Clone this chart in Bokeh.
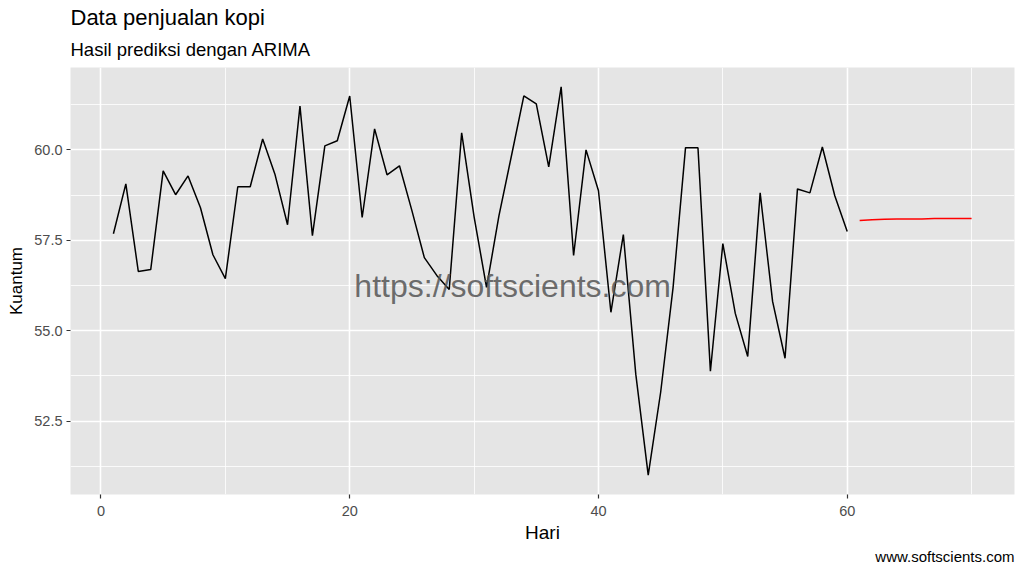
from bokeh.plotting import figure
from bokeh.models import FixedTicker, Title, Label, Range1d, NumeralTickFormatter
from bokeh.embed import file_html
from bokeh.resources import INLINE

# ---- data ----
hari = list(range(1, 61))
kuantum = [57.68, 59.06, 56.64, 56.69, 59.42, 58.76, 59.28, 58.40, 57.10, 56.44,
           58.98, 58.98, 60.30, 59.31, 57.93, 61.21, 57.63, 60.11, 60.25, 61.49,
           58.13, 60.58, 59.31, 59.56, 58.32, 57.02, 56.53, 56.14, 60.47, 58.15,
           56.20, 58.18, 59.83, 61.49, 61.27, 59.53, 61.74, 57.08, 60.00, 58.87,
           55.51, 57.66, 53.80, 51.01, 53.30, 56.20, 60.06, 60.06, 53.88, 57.41,
           55.48, 54.29, 58.81, 55.81, 54.24, 58.92, 58.81, 60.08, 58.73, 57.74]
hari_pred = list(range(61, 71))
kuantum_pred = [58.05, 58.07, 58.08, 58.09, 58.09, 58.09, 58.10, 58.10, 58.10, 58.10]

x_ticks = [0, 20, 40, 60]
x_minor = [10, 30, 50, 70]
y_ticks = [52.5, 55.0, 57.5, 60.0]
y_minor = [51.25, 53.75, 56.25, 58.75, 61.25]

title_text = "Data penjualan kopi"
subtitle_text = "Hasil prediksi dengan ARIMA"
caption_text = "www.softscients.com"
watermark = "https://softscients.com"

FONT = "Liberation Sans"

all_x = hari + hari_pred
all_y = kuantum + kuantum_pred
xr = max(all_x) - min(all_x)
yr = max(all_y) - min(all_y)

p = figure(width=1016, height=565, output_backend="svg", toolbar_location=None,
           title=None,
           x_range=Range1d(min(all_x) - 0.05 * xr, max(all_x) + 0.05 * xr),
           y_range=Range1d(min(all_y) - 0.05 * yr, max(all_y) + 0.05 * yr),
           min_border_left=70, min_border_right=2, min_border_top=67, min_border_bottom=71)

p.background_fill_color = "#E5E5E5"
p.border_fill_color = "white"
p.outline_line_color = None

p.xaxis.ticker = FixedTicker(ticks=x_ticks, minor_ticks=x_minor)
p.yaxis.ticker = FixedTicker(ticks=y_ticks, minor_ticks=y_minor)
p.yaxis.formatter = NumeralTickFormatter(format="0.0")

for g in (p.xgrid, p.ygrid):
    g.grid_line_color = "white"
    g.grid_line_width = 1.6
    g.minor_grid_line_color = "white"
    g.minor_grid_line_width = 0.8

for ax in (p.xaxis, p.yaxis):
    ax.axis_line_color = None
    ax.major_tick_line_color = "#333333"
    ax.major_tick_line_width = 1.2
    ax.major_tick_out = 4
    ax.major_tick_in = 0
    ax.minor_tick_out = 0
    ax.minor_tick_in = 0
    ax.major_label_text_font = FONT
    ax.major_label_text_font_size = "14.5px"
    ax.major_label_text_color = "#4D4D4D"
    ax.axis_label_text_font = FONT
    ax.axis_label_text_font_style = "normal"
    ax.axis_label_text_color = "black"

p.xaxis.axis_label = "Hari"
p.yaxis.axis_label = "Kuantum"
p.xaxis.axis_label_text_font_size = "19px"
p.yaxis.axis_label_text_font_size = "17px"
p.xaxis.major_label_standoff = 7
p.xaxis.axis_label_standoff = 3
p.yaxis.major_label_standoff = 4
p.yaxis.axis_label_standoff = 5

p.line(hari, kuantum, line_color="black", line_width=1.5)
p.line(hari_pred, kuantum_pred, line_color="red", line_width=1.5)

p.add_layout(Label(x=33.1, y=56.25, text=watermark, text_align="center",
                   text_baseline="middle", text_font=FONT, text_font_size="32px",
                   text_color="#555555", text_alpha=0.85))

p.add_layout(Title(text=subtitle_text, text_font=FONT, text_font_size="18.5px",
                   text_font_style="normal", align="left", text_color="black",
                   standoff=16), "above")
p.add_layout(Title(text=title_text, text_font=FONT, text_font_size="22px",
                   text_font_style="normal", align="left", text_color="black",
                   standoff=-3), "above")
p.add_layout(Title(text=caption_text, text_font=FONT, text_font_size="15px",
                   text_font_style="normal", align="right", text_color="black",
                   standoff=0, offset=0), "below")

open("out.html", "w").write(file_html(p, INLINE))
